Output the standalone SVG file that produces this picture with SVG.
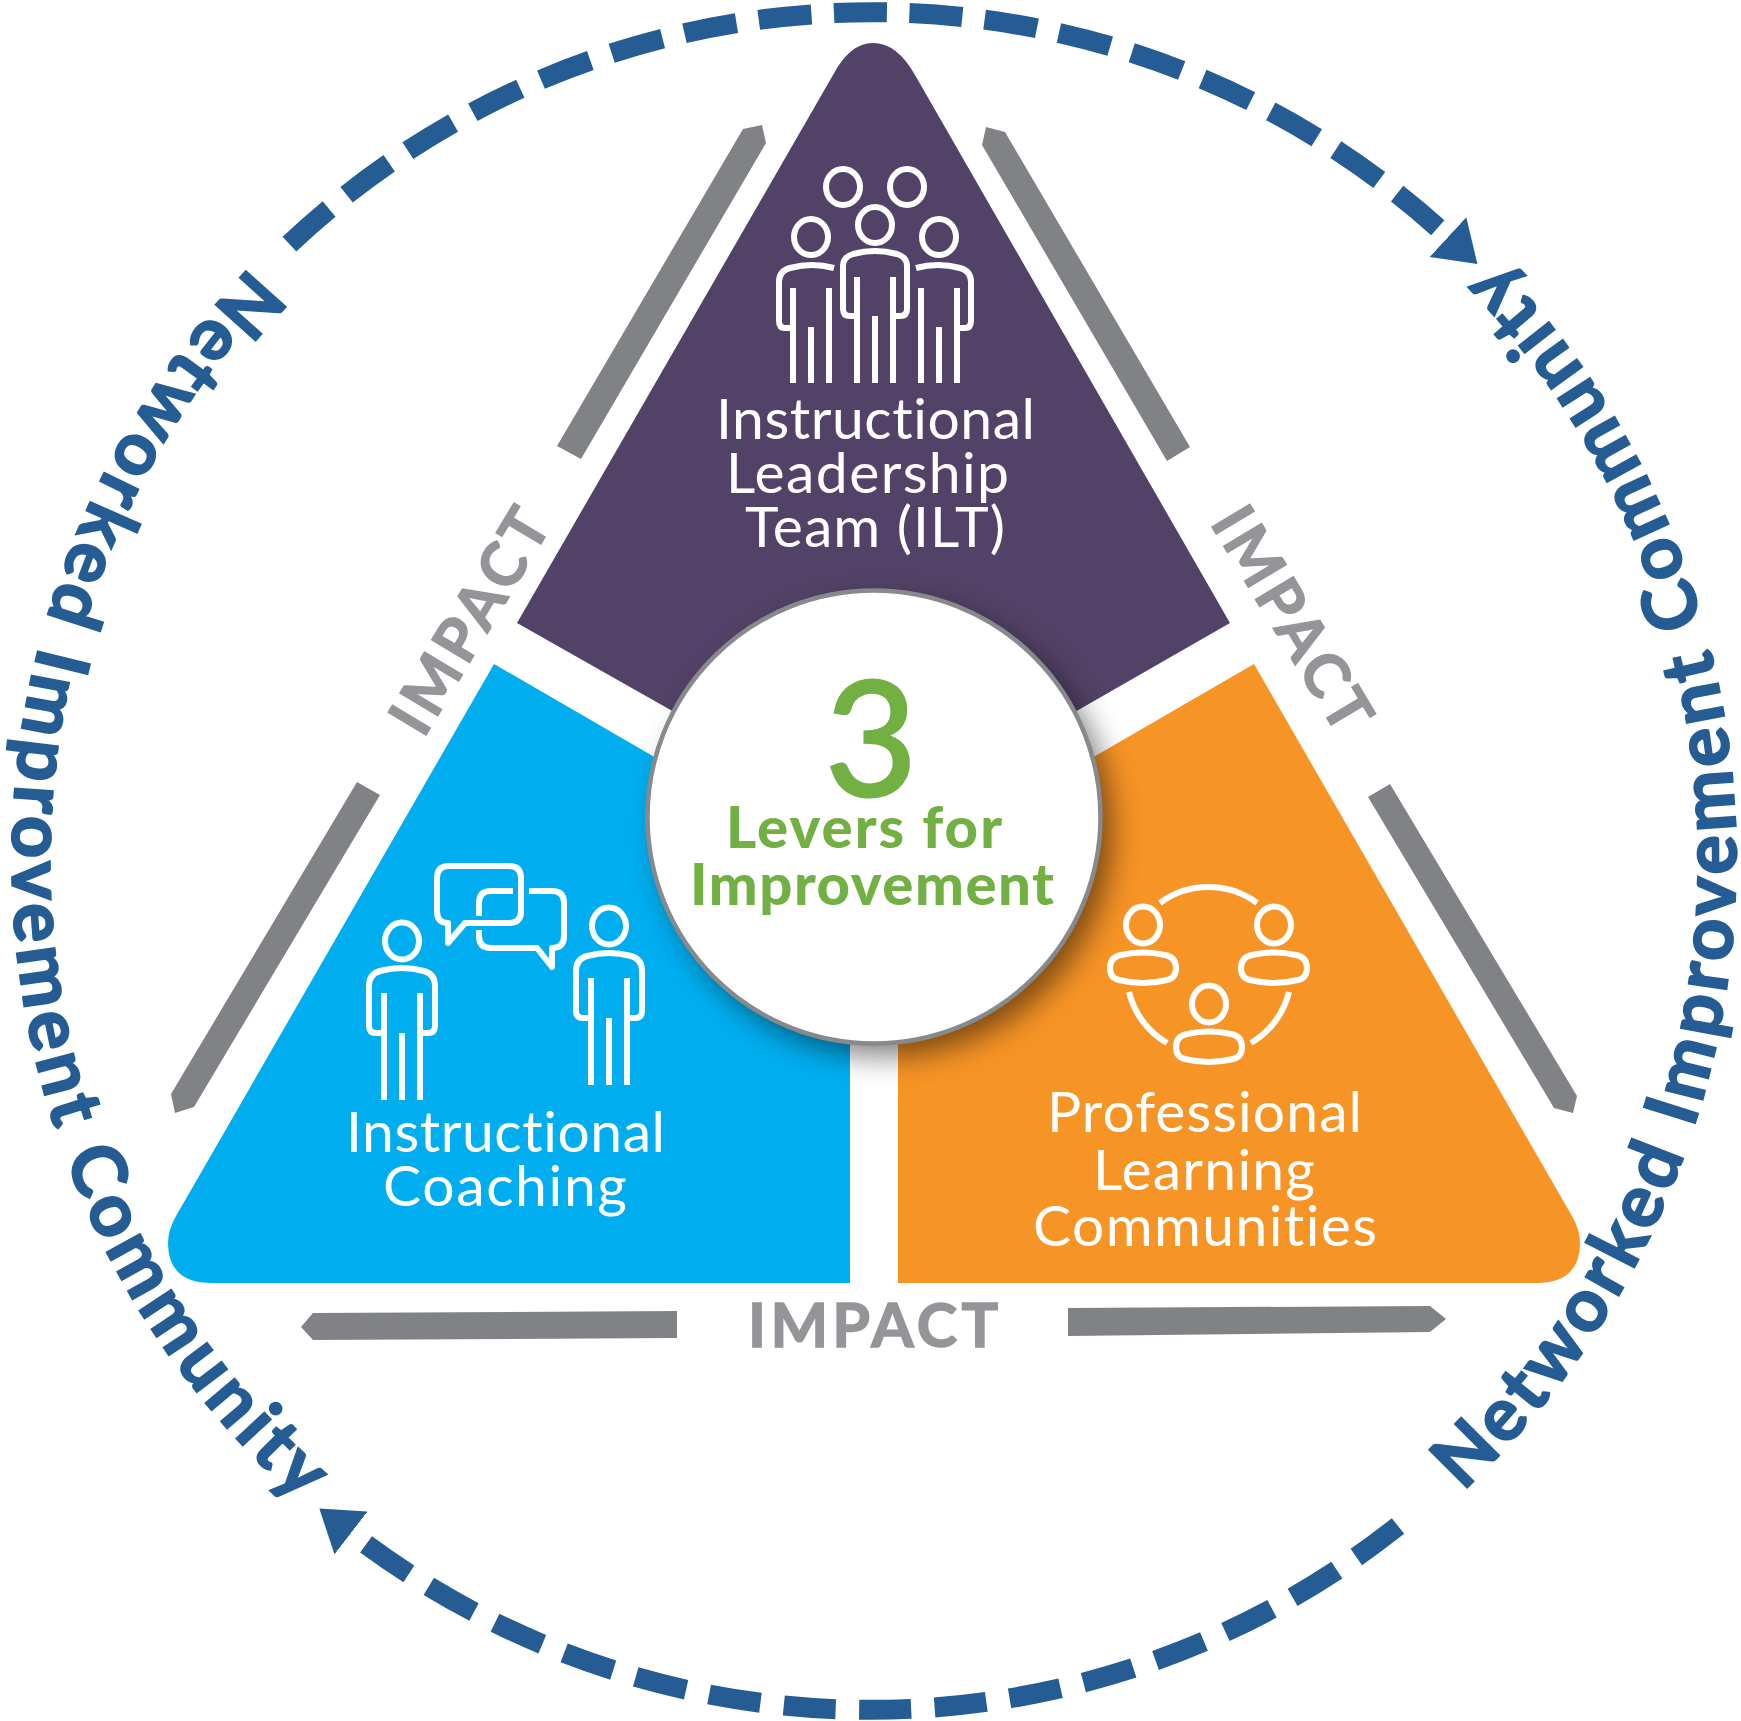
<svg xmlns="http://www.w3.org/2000/svg" xmlns:xlink="http://www.w3.org/1999/xlink" width="1741" height="1721" viewBox="0 0 1741 1721">
<style>
.bar{fill:#808285}
.imp{font-family:"Lato","Open Sans",sans-serif;font-weight:700;font-size:61px;fill:#939598;stroke:#939598;stroke-width:1.5;text-anchor:middle}
.lab{font-family:"Lato","Open Sans",sans-serif;font-weight:400;font-size:57px;fill:#fff;font-variant-ligatures:none}
.grn{font-family:"Lato","Open Sans",sans-serif;font-weight:900;font-size:58px;fill:#72B044}
.ring{font-family:"Lato","Open Sans",sans-serif;font-weight:700;font-size:74px;fill:#255C94;stroke:#255C94;stroke-width:2;font-variant-ligatures:none}
.ic{fill:none;stroke:#fff;stroke-width:6;stroke-linejoin:round}
.dash{fill:none;stroke:#255C94;stroke-width:20}
</style>
<defs>
<marker id="ah" markerUnits="userSpaceOnUse" viewBox="0 0 40 54" refX="0" refY="27" markerWidth="40" markerHeight="54" orient="auto"><path d="M0 0L40 27L0 54Z" fill="#255C94"/></marker>
<filter id="blur" x="-20%" y="-20%" width="140%" height="140%"><feGaussianBlur stdDeviation="15"/></filter>
<g id="person" class="ic"><ellipse cx="0" cy="0" rx="17" ry="18.5"/><path d="M-19 92H-26Q-33 92-33 85V45Q-33 33-22 30Q0 24 22 30Q33 33 33 45V85Q33 92 26 92H19M-18 52V159M0 92V159M18 52V159"/></g>
<g id="sit" class="ic"><ellipse cx="0" cy="0" rx="17" ry="18.5"/><path d="M-33 43Q-33 32-22 30Q0 25 22 30Q33 32 33 43Q33 53 24 55Q0 61-24 55Q-33 53-33 43Z"/></g>
<path id="ringL" d="M250 267A858 858 0 0 0 301.5 1502.6"/>
<path id="ringR" d="M1462.8 1491.3A866 866 0 0 0 1496.1 261.6"/>
</defs>
<rect width="1741" height="1721" fill="#fff"/>
<g id="connectors">
<path class="dash" d="M283 250.3A849 849 0 0 1 1448 237" stroke-dasharray="53 22.5" stroke-dashoffset="-9" marker-end="url(#ah)"/>
<path class="dash" d="M1398 1526A850 850 0 0 1 351 1533" stroke-dasharray="52 23.5" marker-end="url(#ah)"/>
<polygon class="bar" points="743,129 762,125 766,143 581,459 557,446"/>
<polygon class="bar" points="986,127 1005,132 1190,447 1167,461 982,145"/>
<polygon class="bar" points="357,782 380,795 194,1107 175,1113 171,1094"/>
<polygon class="bar" points="1390,784 1368,797 1554,1108 1573,1113 1577,1096"/>
<polygon class="bar" points="313,1313 677,1311 677,1338 313,1340 301,1327"/>
<polygon class="bar" points="1068,1308 1430,1306 1446,1319 1430,1332 1068,1336"/>
</g>
<g id="impact-labels">
<text class="imp" x="873" y="1347" textLength="250">IMPACT</text>
<text class="imp" transform="translate(488,632) rotate(-59)" textLength="250">IMPACT</text>
<text class="imp" transform="translate(1274,630) rotate(59)" textLength="250">IMPACT</text>
</g>
<g id="ring-labels">
<text class="ring"><textPath href="#ringL" xlink:href="#ringL" textLength="1380">Networked Improvement Community</textPath></text>
<text class="ring"><textPath href="#ringR" xlink:href="#ringR" textLength="1368">Networked Improvement Community</textPath></text>
</g>
<g id="ilt">
<path d="M517 623L833 75Q850 43 873 43Q897 43 915 75L1230 623L1000 755L750 755Z" fill="#534267"/>
<g class="ic"><ellipse cx="843" cy="187" rx="17" ry="18"/><ellipse cx="907" cy="187" rx="17" ry="18"/><ellipse cx="811" cy="237" rx="17" ry="18"/><ellipse cx="939" cy="237" rx="17" ry="18"/><ellipse cx="875" cy="225" rx="17" ry="18"/>
<path d="M790 328H785Q779 328 779 321V282Q779 271 790 268Q812 262 834 268"/>
<path d="M960 328H965Q971 328 971 321V282Q971 271 960 268Q938 262 916 268"/>
<path d="M856 316H850Q843 316 843 309V266Q843 257 853 254Q875 248 897 254Q907 257 907 266V309Q907 316 900 316H894"/>
<path d="M793 288V383M811 327V383M829 288V383M857 277V383M875 316V383M893 277V383M921 288V383M939 327V383M957 288V383"/></g>
<g class="lab"><text x="716" y="439" textLength="319">Instructional</text><text x="726" y="493" textLength="283">Leadership</text><text x="745" y="547" textLength="260">Team (ILT)</text></g>
</g>
<g id="coaching">
<path d="M494 664L720 795L850 1000V1283H212Q168 1283 168 1243Q168 1230 176 1216Z" fill="#00AEEF"/>
<use href="#person" xlink:href="#person" x="402" y="941"/><use href="#person" xlink:href="#person" x="609" y="926"/>
<g class="ic"><path d="M448 923V943L465 923H509Q521 923 521 911V878Q521 866 509 866H449Q437 866 437 878V911Q437 923 448 923Z"/><path d="M513 891H491Q479 891 479 903V916M479 930V936Q479 948 491 948H537L552 967V948Q564 948 564 936V903Q564 891 552 891H529"/></g>
<g class="lab"><text x="346" y="1152" textLength="319">Instructional</text><text x="383" y="1206" textLength="244">Coaching</text></g>
</g>
<g id="plc">
<path d="M1254 664L1028 795L898 1000V1283H1536Q1580 1283 1580 1243Q1580 1230 1572 1216Z" fill="#F79426"/>
<use href="#sit" xlink:href="#sit" x="1143" y="925"/><use href="#sit" xlink:href="#sit" x="1274" y="925"/><use href="#sit" xlink:href="#sit" x="1209" y="1004"/>
<g class="ic"><path d="M1160 903A82 82 0 0 1 1257 903M1129 992A82 82 0 0 0 1167 1043M1289 992A82 82 0 0 1 1251 1043"/></g>
<g class="lab"><text x="1047" y="1132" textLength="315">Professional</text><text x="1093" y="1190" textLength="222">Learning</text><text x="1033" y="1246" textLength="344">Communities</text></g>
</g>
<g id="center">
<circle cx="886" cy="830" r="226" fill="#000" opacity=".5" filter="url(#blur)"/>
<circle cx="874" cy="817" r="226.5" fill="#fff" stroke="#88898C" stroke-width="4.5"/>
<text x="871" y="796" font-size="159" text-anchor="middle" style="font-family:'Lato','Open Sans',sans-serif;font-weight:400;fill:#72B044;stroke:#72B044;stroke-width:3">3</text>
<text class="grn" x="726" y="848" textLength="276">Levers for</text>
<text class="grn" x="690" y="905" textLength="364">Improvement</text>
</g>
</svg>
